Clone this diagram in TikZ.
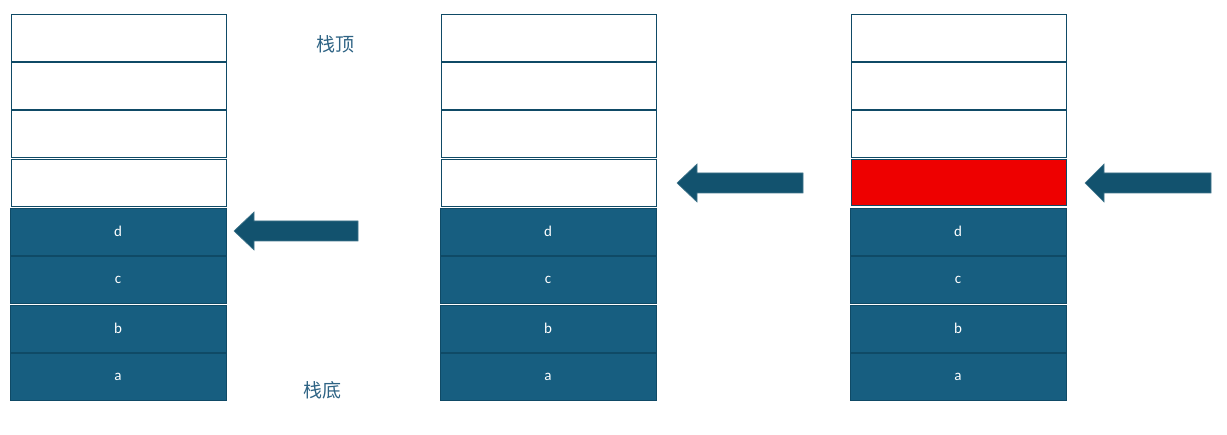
\documentclass[tikz,border=0pt]{standalone}
\usepackage{fontspec}
\setmainfont{Carlito}
\newfontfamily\cjk{Noto Sans CJK SC}
\definecolor{cellblue}{HTML}{175E80}
\definecolor{cellline}{HTML}{0F4A66}
\definecolor{arrowblue}{HTML}{12526E}
\definecolor{labelblue}{HTML}{2E6384}
\definecolor{pushred}{HTML}{EE0000}
\begin{document}
\begin{tikzpicture}[x=1pt,y=-1pt,
  emptycell/.style={draw=cellline,line width=1pt,fill=white,minimum width=215pt,minimum height=47pt,inner sep=0pt},
  fullcell/.style={draw=cellline,line width=0.8pt,fill=cellblue,minimum width=216pt,minimum height=47pt,inner sep=0pt,text=white,font=\fontsize{15}{17}\selectfont},
  redcell/.style={draw=cellline,line width=1pt,fill=pushred,minimum width=215pt,minimum height=46pt,inner sep=0pt},
  fatarrow/.style={fill=arrowblue,draw=arrowblue!80!white,line width=0.6pt},
  stacklabel/.style={text=labelblue,font=\cjk\fontsize{19}{21}\selectfont}]
\useasboundingbox (0,0) rectangle (1227,435);
\foreach \c/\xo in {A/0,B/430,C/840}{
  \node[emptycell] (\c1) at (118.5+\xo,38.5) {};
  \node[emptycell] (\c2) at (118.5+\xo,86.5) {};
  \node[emptycell] (\c3) at (118.5+\xo,134.5) {};
  \node[fullcell] (\c5) at (118+\xo,231.5) {d};
  \node[fullcell] (\c6) at (118+\xo,279.5) {c};
  \node[fullcell] (\c7) at (118+\xo,328.5) {b};
  \node[fullcell] (\c8) at (118+\xo,376.5) {a};
}
\node[emptycell] (A4) at (118.5,183) {};
\node[emptycell] (B4) at (548.5,183) {};
\node[redcell] (C4) at (958.5,183) {};
\node[stacklabel] (top) at (335.5,44) {栈顶};
\node[stacklabel] (bottom) at (322.5,390) {栈底};
% arrows
\draw[fatarrow] (234,231) -- (254,212) -- (254,221) -- (358,221) -- (358,241) -- (254,241) -- (254,250) -- cycle;
\draw[fatarrow] (677,183) -- (697,164) -- (697,173) -- (803,173) -- (803,193) -- (697,193) -- (697,202) -- cycle;
\draw[fatarrow] (1085,183) -- (1104,164) -- (1104,173) -- (1211,173) -- (1211,193) -- (1104,193) -- (1104,202) -- cycle;
\end{tikzpicture}
\end{document}
